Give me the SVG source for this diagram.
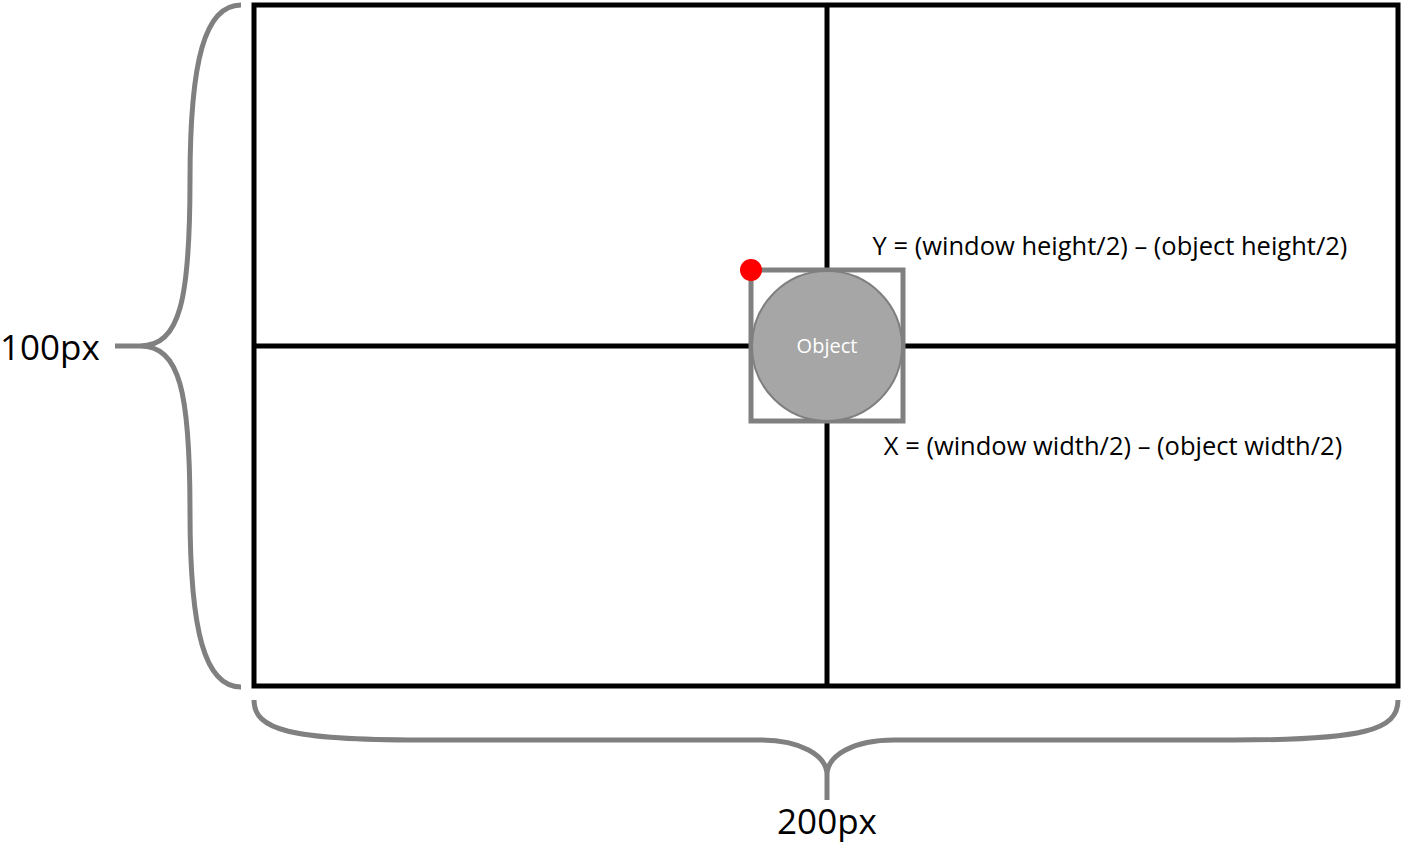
<svg xmlns="http://www.w3.org/2000/svg" width="1402" height="845" viewBox="0 0 1402 845">
<style>
.b{fill:none;stroke:#808080;stroke-width:5}
.t{font-family:"Open Sans","Liberation Sans",sans-serif;fill:#000}
</style>
<rect width="1402" height="845" fill="#fff"/>
<g id="window">
<rect x="254" y="5" width="1144" height="681" fill="none" stroke="#000" stroke-width="5"/>
<line x1="827" y1="5" x2="827" y2="686" stroke="#000" stroke-width="5"/>
<line x1="254" y1="346" x2="1398" y2="346" stroke="#000" stroke-width="5"/>
</g>
<g id="object">
<rect x="751" y="270" width="152" height="151" fill="none" stroke="#808080" stroke-width="5"/>
<circle cx="827" cy="346" r="75" fill="#a6a6a6" stroke="#7f7f7f" stroke-width="2"/>
<text x="827" y="353" text-anchor="middle" class="t" style="fill:#fff;font-size:20px">Object</text>
<circle cx="751" cy="270" r="11" fill="#f00"/>
</g>
<g id="braces">
<path class="b" d="M241,5 C205,5 190,60 190,180 C190,300 180,346 140,346 L115,346 M140,346 C180,346 190,392 190,512 C190,632 205,687 241,687"/>
<path class="b" d="M254,700 C254,730 290,740 420,740 L760,740 C800,740 827,755 827,775 L827,800 M827,775 C827,755 854,740 894,740 L1234,740 C1364,740 1398,730 1398,700"/>
</g>
<text x="0" y="360" class="t" font-size="35">100px</text>
<text x="827" y="834" text-anchor="middle" class="t" font-size="35">200px</text>
<text x="1110" y="255" text-anchor="middle" class="t" font-size="25.5">Y = (window height/2) – (object height/2)</text>
<text x="1113" y="455" text-anchor="middle" class="t" font-size="25.5">X = (window width/2) – (object width/2)</text>
</svg>
